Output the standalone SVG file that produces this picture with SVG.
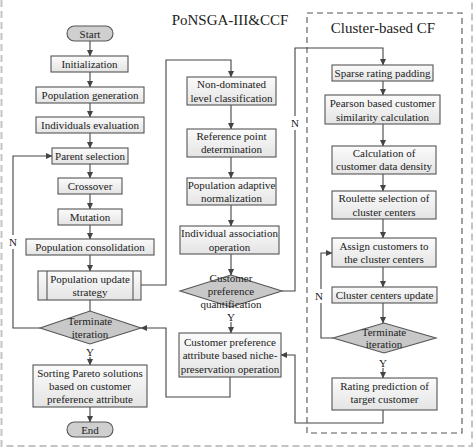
<svg xmlns="http://www.w3.org/2000/svg" width="474" height="448" viewBox="0 0 474 448">
<defs>
<linearGradient id="g" x1="0" y1="0" x2="0" y2="1"><stop offset="0" stop-color="#fbfbfb"/><stop offset="1" stop-color="#e4e4e4"/></linearGradient>
<marker id="ah" markerWidth="7" markerHeight="7" refX="6" refY="3.5" orient="auto" markerUnits="userSpaceOnUse"><path d="M0,0.5 L6.5,3.5 L0,6.5 Z" fill="#444"/></marker>
</defs>
<style>
.b{fill:url(#g);stroke:#555;stroke-width:1.1}
.d{fill:#c8c8c8;stroke:#555;stroke-width:1.1}
.p{fill:#cfcfcf;stroke:#555;stroke-width:1.1}
text{font-family:"Liberation Serif","Times New Roman",serif;font-size:11px;fill:#222;text-anchor:middle;dominant-baseline:central}
.t{font-size:15px}
.c path,.c line{fill:none;stroke:#444;stroke-width:1.1}
.a{marker-end:url(#ah)}
</style>
<rect width="474" height="448" fill="#fff"/>
<path d="M1.5,0 V446 H472 V0" fill="none" stroke="#c4c4c4" stroke-width="2" stroke-dasharray="7,4"/>
<rect x="307" y="13" width="155" height="420" fill="none" stroke="#555" stroke-width="1.1" stroke-dasharray="6,4"/>
<text class="t" x="230" y="20">PoNSGA-III&amp;CCF</text>
<text class="t" x="383" y="28">Cluster-based CF</text>

<g class="c">
<line class="a" x1="90" y1="41" x2="90" y2="56"/>
<line class="a" x1="90" y1="72" x2="90" y2="87"/>
<line class="a" x1="90" y1="103" x2="90" y2="117"/>
<line class="a" x1="90" y1="133" x2="90" y2="148"/>
<line class="a" x1="90" y1="164" x2="90" y2="178"/>
<line class="a" x1="90" y1="194" x2="90" y2="209"/>
<line class="a" x1="90" y1="225" x2="90" y2="239"/>
<line class="a" x1="90" y1="255" x2="90" y2="271"/>
<line x1="90" y1="300" x2="90" y2="311"/>
<line class="a" x1="90" y1="357" x2="90" y2="365"/>
<line class="a" x1="90" y1="407" x2="90" y2="422"/>
<path d="M40,328 H13 V249"/>
<path class="a" d="M13,235 V156 H52"/>
<path class="a" d="M141,285 H166 V60 H231 V77"/>
<line class="a" x1="231" y1="105" x2="231" y2="129"/>
<line class="a" x1="231" y1="157" x2="231" y2="178"/>
<line class="a" x1="231" y1="205" x2="231" y2="226"/>
<line class="a" x1="231" y1="254" x2="231" y2="275"/>
<line class="a" x1="231" y1="322" x2="231" y2="333"/>
<path class="a" d="M230,377 V397 H166 V328 H141"/>
<path d="M282,291 H295 V130"/>
<path class="a" d="M295,116 V48 H383 V65"/>
<line class="a" x1="383" y1="81" x2="383" y2="95"/>
<line class="a" x1="383" y1="124" x2="383" y2="146"/>
<line class="a" x1="383" y1="174" x2="383" y2="191"/>
<line class="a" x1="383" y1="219" x2="383" y2="238"/>
<line class="a" x1="383" y1="267" x2="383" y2="287"/>
<line class="a" x1="383" y1="303" x2="383" y2="323"/>
<line class="a" x1="383" y1="368" x2="383" y2="378"/>
<path class="a" d="M383,410 V423 H295 V355 H281"/>
<path d="M333,338 H321 V303"/>
<path class="a" d="M321,289 V253 H332"/>
</g>
<g id="labels">
<text x="13" y="242">N</text>
<text x="90" y="352">Y</text>
<text x="231" y="317">Y</text>
<text x="295" y="123">N</text>
<text x="319" y="296">N</text>
<text x="383" y="363">Y</text>
</g>

<g id="start"><rect class="p" x="67" y="26" width="46" height="15" rx="7.5"/><text x="90" y="33.5">Start</text></g>
<g id="init"><rect class="b" x="51" y="56" width="77" height="16"/><text x="89.5" y="64">Initialization</text></g>
<g id="popgen"><rect class="b" x="36" y="87" width="108" height="16"/><text x="90" y="95">Population generation</text></g>
<g id="indeval"><rect class="b" x="36" y="117" width="108" height="16"/><text x="90" y="125">Individuals evaluation</text></g>
<g id="parent"><rect class="b" x="52" y="148" width="76" height="16"/><text x="90" y="156">Parent selection</text></g>
<g id="cross"><rect class="b" x="58" y="178" width="64" height="16"/><text x="90" y="186">Crossover</text></g>
<g id="mut"><rect class="b" x="58" y="209" width="64" height="16"/><text x="90" y="217">Mutation</text></g>
<g id="consol"><rect class="b" x="26" y="239" width="128" height="16"/><text x="90" y="247">Population consolidation</text></g>
<g id="update"><rect class="b" x="38" y="271" width="103" height="29"/><line x1="47" y1="271" x2="47" y2="300" stroke="#555" stroke-width="1.1"/><line x1="133" y1="271" x2="133" y2="300" stroke="#555" stroke-width="1.1"/><text x="90" y="279">Population update</text><text x="90" y="292">strategy</text></g>
<g id="term1"><polygon class="d" points="40,328 90,311 141,328 90,344"/><text x="90" y="321">Terminate</text><text x="90" y="334">iteration</text></g>
<g id="sort"><rect class="b" x="33" y="365" width="114" height="42"/><text x="90" y="373">Sorting Pareto solutions</text><text x="90" y="386">based on customer</text><text x="90" y="399">preference attribute</text></g>
<g id="end"><rect class="p" x="67" y="422" width="46" height="15" rx="7.5"/><text x="90" y="429.5">End</text></g>

<g id="nondom"><rect class="b" x="187" y="77" width="89" height="28"/><text x="231.5" y="84">Non-dominated</text><text x="231.5" y="98">level classification</text></g>
<g id="refpt"><rect class="b" x="187" y="129" width="89" height="28"/><text x="231.5" y="136">Reference point</text><text x="231.5" y="149">determination</text></g>
<g id="norm"><rect class="b" x="187" y="178" width="89" height="27"/><text x="231.5" y="185">Population adaptive</text><text x="231.5" y="198">normalization</text></g>
<g id="assoc"><rect class="b" x="180" y="226" width="99" height="28"/><text x="229.5" y="233">Individual association</text><text x="229.5" y="247">operation</text></g>
<g id="quant"><polygon class="d" points="180,291 231,275 282,291 231,307"/><text x="231" y="278">Customer</text><text x="231" y="291">preference</text><text x="231" y="304">quantification</text></g>
<g id="niche"><rect class="b" x="179" y="333" width="102" height="44"/><text x="230" y="342">Customer preference</text><text x="230" y="355">attribute based niche-</text><text x="230" y="369">preservation operation</text></g>

<g id="sparse"><rect class="b" x="332" y="65" width="101" height="16"/><text x="382.5" y="73">Sparse rating padding</text></g>
<g id="pearson"><rect class="b" x="325" y="95" width="115" height="29"/><text x="382.5" y="103">Pearson based customer</text><text x="382.5" y="117">similarity calculation</text></g>
<g id="density"><rect class="b" x="332" y="146" width="104" height="28"/><text x="384" y="153">Calculation of</text><text x="384" y="166">customer data density</text></g>
<g id="roulette"><rect class="b" x="332" y="191" width="104" height="28"/><text x="384" y="198">Roulette selection of</text><text x="384" y="212">cluster centers</text></g>
<g id="assign"><rect class="b" x="332" y="238" width="104" height="29"/><text x="384" y="246">Assign customers to</text><text x="384" y="259">the cluster centers</text></g>
<g id="ccupdate"><rect class="b" x="332" y="287" width="105" height="16"/><text x="384.5" y="295">Cluster centers update</text></g>
<g id="term2"><polygon class="d" points="333,338 384,323 436,338 384,353"/><text x="384" y="332">Terminate</text><text x="384" y="344">iteration</text></g>
<g id="rating"><rect class="b" x="332" y="378" width="105" height="32"/><text x="384.5" y="386">Rating prediction of</text><text x="384.5" y="399">target customer</text></g>
</svg>
